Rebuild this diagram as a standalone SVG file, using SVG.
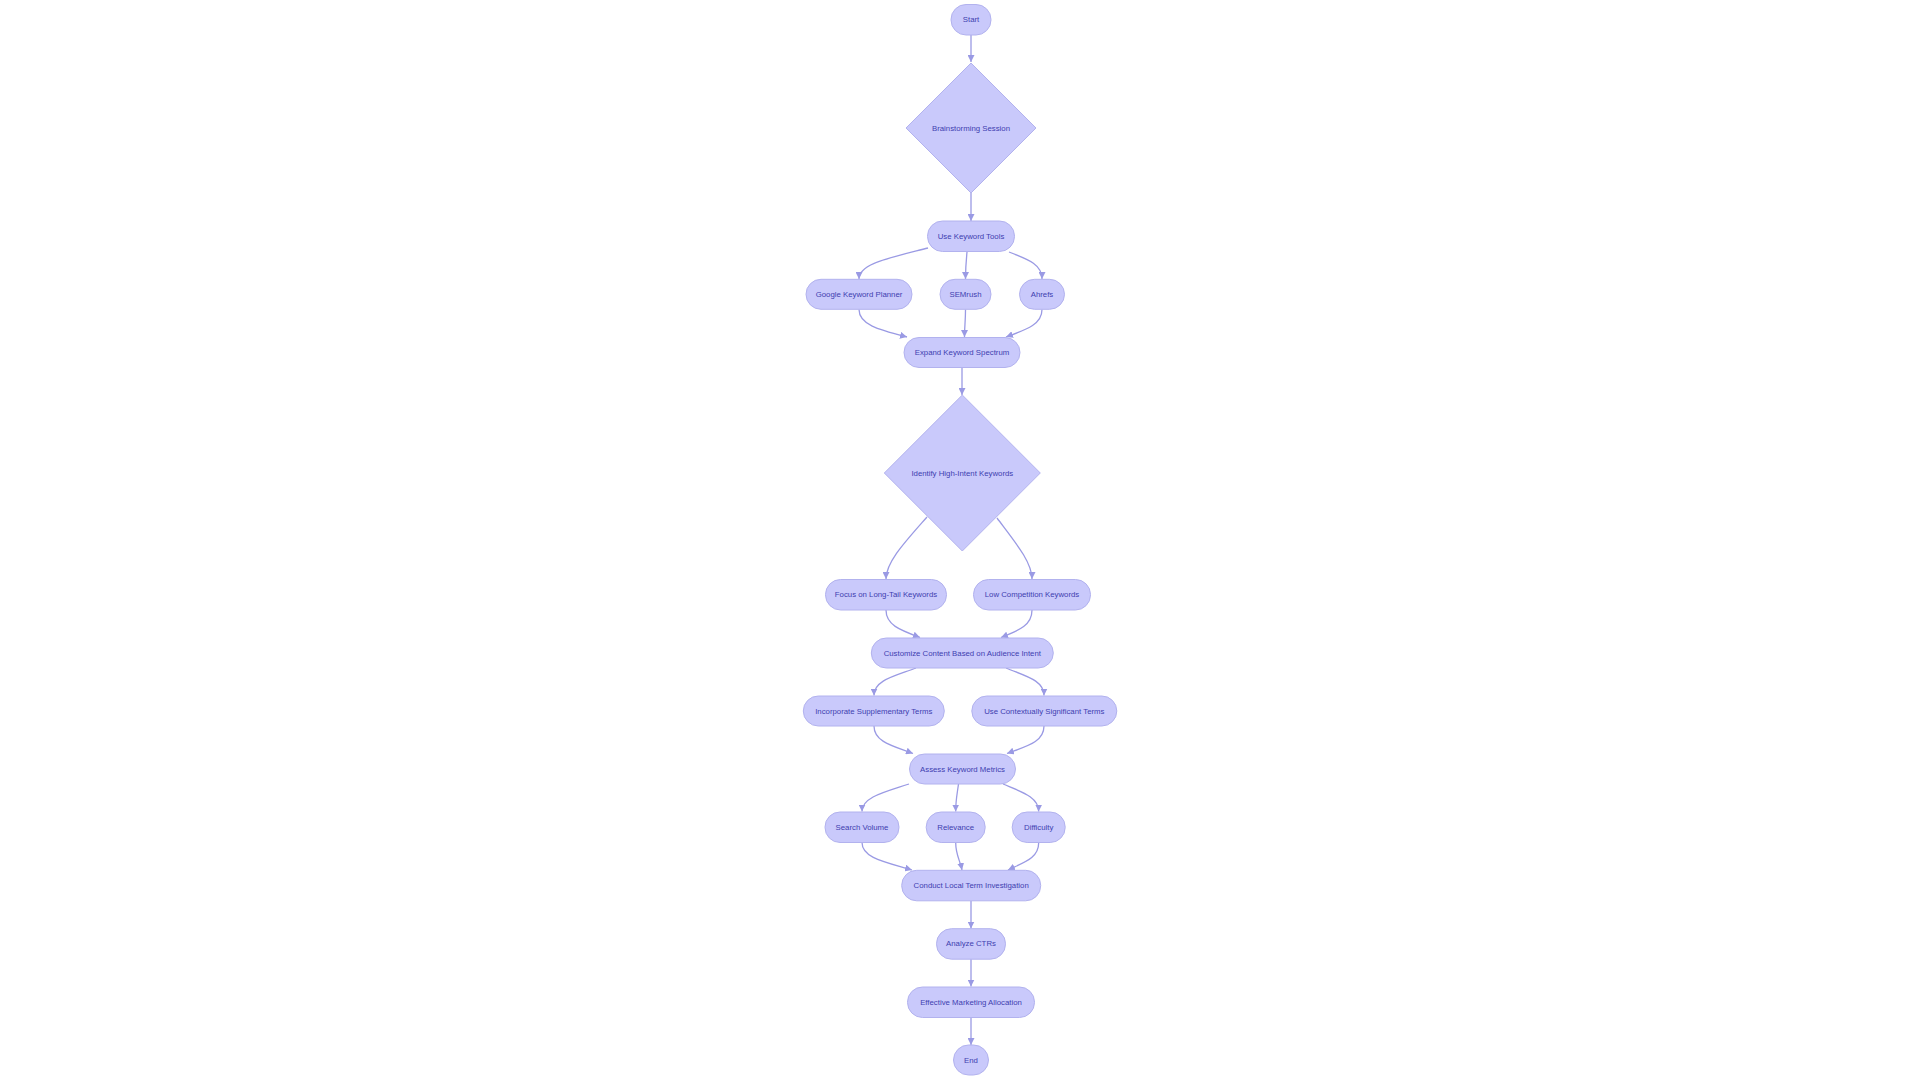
<svg xmlns="http://www.w3.org/2000/svg" width="1920" height="1080" viewBox="0 0 1920 1080">
<defs>
<style>
.n{fill:#c9c9fb;stroke:#b2b2ee;stroke-width:1}
.t{font-family:"Liberation Sans",Arial,sans-serif;font-size:7.8px;fill:#4040b0;text-anchor:middle;dominant-baseline:central}
.e{fill:none;stroke:#9a9ae4;stroke-width:1.3;marker-end:url(#ah)}
</style>
<marker id="ah" viewBox="0 0 10 10" refX="10" refY="5" markerWidth="7" markerHeight="7" markerUnits="userSpaceOnUse" orient="auto">
<path d="M0,0 L10,5 L0,10 z" fill="#9a9ae4"/>
</marker>
</defs>
<rect width="1920" height="1080" fill="#ffffff"/>
<g id="connectors">
<path class="e" d="M971,35 L971,62"/>
<path class="e" d="M971,193 L971,221"/>
<path class="e" d="M928,248 C885,259 859,264 859,279"/>
<path class="e" d="M967,252 C966,262 965.5,268 965.5,279"/>
<path class="e" d="M1009,252 C1030,260 1042,265 1042,279"/>
<path class="e" d="M859,309.5 C859,325 880,330 907,337"/>
<path class="e" d="M965.5,309.5 C965.5,320 964.5,328 964.5,337"/>
<path class="e" d="M1042,309.5 C1042,325 1025,330 1006,337"/>
<path class="e" d="M962,368 L962,395"/>
<path class="e" d="M927,517 C905,542 886,562 886,579"/>
<path class="e" d="M997,518 C1015,542 1032,562 1032,579"/>
<path class="e" d="M886,610 C886,625 900,630 920,637.5"/>
<path class="e" d="M1032,610 C1032,625 1020,630 1001,637.5"/>
<path class="e" d="M916,668 C895,676 874,680 874,695.5"/>
<path class="e" d="M1006,668 C1025,676 1044,680 1044,695.5"/>
<path class="e" d="M874,726 C874,742 893,746 913,753.5"/>
<path class="e" d="M1044,726 C1044,742 1027,746 1007,753.5"/>
<path class="e" d="M909,784 C885,792 862,797 862,811.5"/>
<path class="e" d="M958.5,784 C957,795 955.7,800 955.7,811.5"/>
<path class="e" d="M1003,784 C1022,792 1038.7,797 1038.7,811.5"/>
<path class="e" d="M862,842.5 C862,858 885,862 912,870"/>
<path class="e" d="M955.7,842.5 C955.7,855 960,860 962,870"/>
<path class="e" d="M1038.7,842.5 C1038.7,858 1025,862 1008,870"/>
<path class="e" d="M971,901 L971,928.5"/>
<path class="e" d="M971,959 L971,986.5"/>
<path class="e" d="M971,1017 L971,1045"/>
</g>
<g id="start"><rect class="n" x="951" y="4.5" width="40" height="30.5" rx="15"/><text class="t" x="971" y="19.5">Start</text></g>
<g id="brainstorm"><polygon class="n" points="971,63 1036,128 971,193 906,128"/><text class="t" x="971" y="128">Brainstorming Session</text></g>
<g id="usetools"><rect class="n" x="927.5" y="221" width="87" height="30.5" rx="15"/><text class="t" x="971" y="236">Use Keyword Tools</text></g>
<g id="gkp"><rect class="n" x="806" y="279.3" width="106" height="30" rx="15"/><text class="t" x="859" y="294.3">Google Keyword Planner</text></g>
<g id="semrush"><rect class="n" x="940" y="279.3" width="51" height="30" rx="15"/><text class="t" x="965.5" y="294.3">SEMrush</text></g>
<g id="ahrefs"><rect class="n" x="1019.5" y="279.3" width="45" height="30" rx="15"/><text class="t" x="1042" y="294.3">Ahrefs</text></g>
<g id="expand"><rect class="n" x="904" y="337.5" width="116" height="30" rx="15"/><text class="t" x="962" y="352.5">Expand Keyword Spectrum</text></g>
<g id="identify"><polygon class="n" points="962.3,395 1040.3,473 962.3,551 884.3,473"/><text class="t" x="962.3" y="473">Identify High-Intent Keywords</text></g>
<g id="focus"><rect class="n" x="825.5" y="579.5" width="121" height="30.5" rx="15"/><text class="t" x="886" y="594.7">Focus on Long-Tail Keywords</text></g>
<g id="lowcomp"><rect class="n" x="973.5" y="579.5" width="117" height="30.5" rx="15"/><text class="t" x="1032" y="594.7">Low Competition Keywords</text></g>
<g id="customize"><rect class="n" x="871.3" y="638" width="182" height="30" rx="15"/><text class="t" x="962.3" y="653">Customize Content Based on Audience Intent</text></g>
<g id="incorporate"><rect class="n" x="803.3" y="696" width="141" height="30" rx="15"/><text class="t" x="873.8" y="711">Incorporate Supplementary Terms</text></g>
<g id="contextual"><rect class="n" x="971.8" y="696" width="145" height="30" rx="15"/><text class="t" x="1044.3" y="711">Use Contextually Significant Terms</text></g>
<g id="assess"><rect class="n" x="909.5" y="754" width="106" height="30" rx="15"/><text class="t" x="962.5" y="769">Assess Keyword Metrics</text></g>
<g id="volume"><rect class="n" x="825" y="812" width="74" height="30.5" rx="15"/><text class="t" x="862" y="827">Search Volume</text></g>
<g id="relevance"><rect class="n" x="926.2" y="812" width="59" height="30.5" rx="15"/><text class="t" x="955.7" y="827">Relevance</text></g>
<g id="difficulty"><rect class="n" x="1012.2" y="812" width="53" height="30.5" rx="15"/><text class="t" x="1038.7" y="827">Difficulty</text></g>
<g id="conduct"><rect class="n" x="901.7" y="870.3" width="139" height="30.5" rx="15"/><text class="t" x="971.2" y="885.3">Conduct Local Term Investigation</text></g>
<g id="ctrs"><rect class="n" x="936.5" y="928.7" width="69" height="30.5" rx="15"/><text class="t" x="971" y="943.7">Analyze CTRs</text></g>
<g id="effective"><rect class="n" x="907.5" y="987" width="127" height="30.5" rx="15"/><text class="t" x="971" y="1002">Effective Marketing Allocation</text></g>
<g id="end"><rect class="n" x="953.5" y="1045" width="35" height="30" rx="15"/><text class="t" x="971" y="1060">End</text></g>
</svg>
